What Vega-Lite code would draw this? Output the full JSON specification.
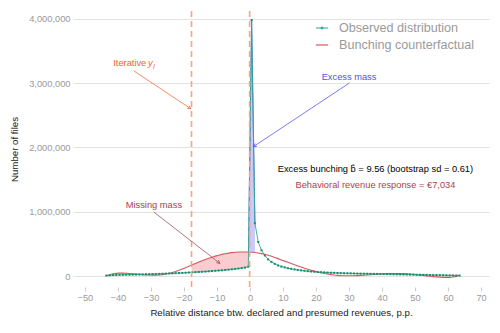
{
  "$schema": "https://vega.github.io/schema/vega-lite/v6.json",
  "width": 416,
  "height": 276,
  "autosize": {"type": "none"},
  "padding": {"left": 73, "top": 11, "right": 11, "bottom": 46},
  "background": "white",
  "config": {
    "font": "Liberation Sans",
    "view": {"stroke": null},
    "axis": {"domain": false, "labelColor": "#9a9a9a", "labelFontSize": 9.3, "titleColor": "#222222", "titleFontSize": 9.7, "titleFontWeight": "normal", "labelOverlap": false},
    "axisX": {"tickCount": 13, "labelOverlap": false}
  },
  "datasets": {
    "obs": [
      {"x": -43.5, "n": 8000}, {"x": -42.5, "n": 12000}, {"x": -41.5, "n": 15000}, {"x": -40.5, "n": 17000},
      {"x": -39.5, "n": 19000}, {"x": -38.5, "n": 20000}, {"x": -37.5, "n": 21000}, {"x": -36.5, "n": 22000},
      {"x": -35.5, "n": 23000}, {"x": -34.5, "n": 24000}, {"x": -33.5, "n": 25000}, {"x": -32.5, "n": 26000},
      {"x": -31.5, "n": 28000}, {"x": -30.5, "n": 29000}, {"x": -29.5, "n": 31000}, {"x": -28.5, "n": 33000},
      {"x": -27.5, "n": 34000}, {"x": -26.5, "n": 36000}, {"x": -25.5, "n": 38000}, {"x": -24.5, "n": 40000},
      {"x": -23.5, "n": 42000}, {"x": -22.5, "n": 44000}, {"x": -21.5, "n": 47000}, {"x": -20.5, "n": 49000},
      {"x": -19.5, "n": 52000}, {"x": -18.5, "n": 55000}, {"x": -17.5, "n": 58000}, {"x": -16.5, "n": 61000},
      {"x": -15.5, "n": 64000}, {"x": -14.5, "n": 67000}, {"x": -13.5, "n": 70000}, {"x": -12.5, "n": 74000},
      {"x": -11.5, "n": 78000}, {"x": -10.5, "n": 82000}, {"x": -9.5, "n": 86000}, {"x": -8.5, "n": 90000},
      {"x": -7.5, "n": 95000}, {"x": -6.5, "n": 100000}, {"x": -5.5, "n": 105000}, {"x": -4.5, "n": 111000},
      {"x": -3.5, "n": 117000}, {"x": -2.5, "n": 124000}, {"x": -1.5, "n": 132000}, {"x": -0.5, "n": 145000},
      {"x": 0.5, "n": 3980000}, {"x": 1.5, "n": 820000}, {"x": 2.5, "n": 530000}, {"x": 3.5, "n": 400000},
      {"x": 4.5, "n": 320000}, {"x": 5.5, "n": 260000}, {"x": 6.5, "n": 220000}, {"x": 7.5, "n": 190000},
      {"x": 8.5, "n": 165000}, {"x": 9.5, "n": 148000}, {"x": 10.5, "n": 135000}, {"x": 11.5, "n": 122000},
      {"x": 12.5, "n": 112000}, {"x": 13.5, "n": 103000}, {"x": 14.5, "n": 95000}, {"x": 15.5, "n": 88000},
      {"x": 16.5, "n": 82000}, {"x": 17.5, "n": 76000}, {"x": 18.5, "n": 71000}, {"x": 19.5, "n": 67000},
      {"x": 20.5, "n": 63000}, {"x": 21.5, "n": 60000}, {"x": 22.5, "n": 57000}, {"x": 23.5, "n": 54000},
      {"x": 24.5, "n": 52000}, {"x": 25.5, "n": 50000}, {"x": 26.5, "n": 48000}, {"x": 27.5, "n": 46000},
      {"x": 28.5, "n": 44000}, {"x": 29.5, "n": 43000}, {"x": 30.5, "n": 42000}, {"x": 31.5, "n": 40000},
      {"x": 32.5, "n": 39000}, {"x": 33.5, "n": 38000}, {"x": 34.5, "n": 37000}, {"x": 35.5, "n": 36000},
      {"x": 36.5, "n": 35000}, {"x": 37.5, "n": 34000}, {"x": 38.5, "n": 33000}, {"x": 39.5, "n": 32000},
      {"x": 40.5, "n": 31000}, {"x": 41.5, "n": 30000}, {"x": 42.5, "n": 29000}, {"x": 43.5, "n": 28000},
      {"x": 44.5, "n": 27000}, {"x": 45.5, "n": 26000}, {"x": 46.5, "n": 25000}, {"x": 47.5, "n": 24000},
      {"x": 48.5, "n": 23000}, {"x": 49.5, "n": 22000}, {"x": 50.5, "n": 21000}, {"x": 51.5, "n": 20000},
      {"x": 52.5, "n": 19000}, {"x": 53.5, "n": 18000}, {"x": 54.5, "n": 17000}, {"x": 55.5, "n": 16000},
      {"x": 56.5, "n": 15000}, {"x": 57.5, "n": 14000}, {"x": 58.5, "n": 13000}, {"x": 59.5, "n": 12000},
      {"x": 60.5, "n": 11000}, {"x": 61.5, "n": 10000}, {"x": 62.5, "n": 9000}, {"x": 63.5, "n": 8000}
    ],
    "cf": [
      {"x": -43.5, "n": 0}, {"x": -42.5, "n": 20000}, {"x": -41.5, "n": 35000}, {"x": -40.5, "n": 42000},
      {"x": -39.5, "n": 45000}, {"x": -38.5, "n": 45000}, {"x": -37.5, "n": 43000}, {"x": -36.5, "n": 40000},
      {"x": -35.5, "n": 36000}, {"x": -34.5, "n": 31000}, {"x": -33.5, "n": 26000}, {"x": -32.5, "n": 22000},
      {"x": -31.5, "n": 18000}, {"x": -30.5, "n": 16000}, {"x": -29.5, "n": 15000}, {"x": -28.5, "n": 15000},
      {"x": -27.5, "n": 18000}, {"x": -26.5, "n": 23000}, {"x": -25.5, "n": 31000}, {"x": -24.5, "n": 42000},
      {"x": -23.5, "n": 56000}, {"x": -22.5, "n": 72000}, {"x": -21.5, "n": 90000}, {"x": -20.5, "n": 110000},
      {"x": -19.5, "n": 131000}, {"x": -18.5, "n": 152000}, {"x": -17.5, "n": 174000}, {"x": -16.5, "n": 196000},
      {"x": -15.5, "n": 217000}, {"x": -14.5, "n": 238000}, {"x": -13.5, "n": 258000}, {"x": -12.5, "n": 277000},
      {"x": -11.5, "n": 294000}, {"x": -10.5, "n": 310000}, {"x": -9.5, "n": 324000}, {"x": -8.5, "n": 337000},
      {"x": -7.5, "n": 348000}, {"x": -6.5, "n": 357000}, {"x": -5.5, "n": 364000}, {"x": -4.5, "n": 369000},
      {"x": -3.5, "n": 373000}, {"x": -2.5, "n": 375000}, {"x": -1.5, "n": 375000}, {"x": -0.5, "n": 374000},
      {"x": 0.5, "n": 371000}, {"x": 1.5, "n": 366000}, {"x": 2.5, "n": 358000}, {"x": 3.5, "n": 349000},
      {"x": 4.5, "n": 338000}, {"x": 5.5, "n": 324000}, {"x": 6.5, "n": 308000}, {"x": 7.5, "n": 290000},
      {"x": 8.5, "n": 271000}, {"x": 9.5, "n": 251000}, {"x": 10.5, "n": 232000}, {"x": 11.5, "n": 213000},
      {"x": 12.5, "n": 194000}, {"x": 13.5, "n": 176000}, {"x": 14.5, "n": 158000}, {"x": 15.5, "n": 140000},
      {"x": 16.5, "n": 123000}, {"x": 17.5, "n": 107000}, {"x": 18.5, "n": 91000}, {"x": 19.5, "n": 77000},
      {"x": 20.5, "n": 63000}, {"x": 21.5, "n": 51000}, {"x": 22.5, "n": 40000}, {"x": 23.5, "n": 31000},
      {"x": 24.5, "n": 23000}, {"x": 25.5, "n": 16000}, {"x": 26.5, "n": 11000}, {"x": 27.5, "n": 7000},
      {"x": 28.5, "n": 5000}, {"x": 29.5, "n": 4000}, {"x": 30.5, "n": 4000}, {"x": 31.5, "n": 5000},
      {"x": 32.5, "n": 7000}, {"x": 33.5, "n": 10000}, {"x": 34.5, "n": 13000}, {"x": 35.5, "n": 17000},
      {"x": 36.5, "n": 21000}, {"x": 37.5, "n": 25000}, {"x": 38.5, "n": 29000}, {"x": 39.5, "n": 33000},
      {"x": 40.5, "n": 36000}, {"x": 41.5, "n": 38000}, {"x": 42.5, "n": 40000}, {"x": 43.5, "n": 41000},
      {"x": 44.5, "n": 41000}, {"x": 45.5, "n": 40000}, {"x": 46.5, "n": 38000}, {"x": 47.5, "n": 35000},
      {"x": 48.5, "n": 31000}, {"x": 49.5, "n": 26000}, {"x": 50.5, "n": 21000}, {"x": 51.5, "n": 15000},
      {"x": 52.5, "n": 9000}, {"x": 53.5, "n": 3000}, {"x": 54.5, "n": -3000}, {"x": 55.5, "n": -8000},
      {"x": 56.5, "n": -13000}, {"x": 57.5, "n": -17000}, {"x": 58.5, "n": -20000}, {"x": 59.5, "n": -21000},
      {"x": 60.5, "n": -20000}, {"x": 61.5, "n": -15000}, {"x": 62.5, "n": -5000}, {"x": 63.5, "n": 12000}
    ],
    "missing": [
      {"x": -17.7, "cf": 170000, "obs": 57000}, {"x": -17.5, "cf": 174000, "obs": 58000},
      {"x": -16.5, "cf": 196000, "obs": 61000}, {"x": -15.5, "cf": 217000, "obs": 64000},
      {"x": -14.5, "cf": 238000, "obs": 67000}, {"x": -13.5, "cf": 258000, "obs": 70000},
      {"x": -12.5, "cf": 277000, "obs": 74000}, {"x": -11.5, "cf": 294000, "obs": 78000},
      {"x": -10.5, "cf": 310000, "obs": 82000}, {"x": -9.5, "cf": 324000, "obs": 86000},
      {"x": -8.5, "cf": 337000, "obs": 90000}, {"x": -7.5, "cf": 348000, "obs": 95000},
      {"x": -6.5, "cf": 357000, "obs": 100000}, {"x": -5.5, "cf": 364000, "obs": 105000},
      {"x": -4.5, "cf": 369000, "obs": 111000}, {"x": -3.5, "cf": 373000, "obs": 117000},
      {"x": -2.5, "cf": 375000, "obs": 124000}, {"x": -1.5, "cf": 375000, "obs": 132000},
      {"x": -0.5, "cf": 374000, "obs": 145000}
    ],
    "excess": [
      {"x": -0.44, "top": 374000, "bottom": 374000},
      {"x": 0.5, "top": 3980000, "bottom": 371000},
      {"x": 1.5, "top": 820000, "bottom": 366000}
    ],
    "vlines": [{"x": -17.7}, {"x": -0.1}]
  },
  "layer": [
    {
      "data": {"name": "missing"},
      "mark": {"type": "area", "color": "#F9CDD0", "opacity": 1},
      "encoding": {
        "x": {"field": "x", "type": "quantitative", "scale": {"domain": [-53.6, 72.4], "nice": false, "zero": false},
          "axis": {"values": [-50, -40, -30, -20, -10, 0, 10, 20, 30, 40, 50, 60, 70], "tickCount": 13, "labelOverlap": false, "grid": false, "ticks": true, "tickColor": "#cccccc", "tickSize": 4, "labelPadding": 2, "title": "Relative distance btw. declared and presumed revenues, p.p.", "titlePadding": 5}},
        "y": {"field": "cf", "type": "quantitative", "scale": {"domain": [-170000, 4120000], "nice": false, "zero": false},
          "axis": {"values": [0, 1000000, 2000000, 3000000, 4000000], "format": ",", "labelExpr": "format(datum.value, ',')", "grid": true, "gridColor": "#e2e2e2", "gridWidth": 1, "ticks": false, "labelPadding": 3, "title": "Number of files", "titlePadding": 9}},
        "y2": {"field": "obs"}
      }
    },
    {
      "data": {"name": "excess"},
      "mark": {"type": "area", "color": "#C3C3FB", "opacity": 0.9, "line": {"color": "#5E73EC", "strokeWidth": 1}},
      "encoding": {
        "x": {"field": "x", "type": "quantitative"},
        "y": {"field": "top", "type": "quantitative"},
        "y2": {"field": "bottom"}
      }
    },
    {
      "data": {"name": "cf"},
      "mark": {"type": "line", "strokeWidth": 1.1},
      "encoding": {
        "x": {"field": "x", "type": "quantitative"},
        "y": {"field": "n", "type": "quantitative"},
        "color": {"datum": "Bunching counterfactual"}
      }
    },
    {
      "data": {"name": "obs"},
      "mark": {"type": "line", "strokeWidth": 0.9},
      "encoding": {
        "x": {"field": "x", "type": "quantitative"},
        "y": {"field": "n", "type": "quantitative"},
        "color": {"datum": "Observed distribution", "type": "nominal",
          "scale": {"domain": ["Observed distribution", "Bunching counterfactual"], "range": ["#2FA88C", "#D9585E"]},
          "legend": {"orient": "none", "legendX": 242, "legendY": 10, "title": null, "labelFontSize": 12.6, "labelColor": "#9a9a9a", "symbolType": "stroke", "symbolSize": 150, "symbolStrokeWidth": 1.2, "rowPadding": 3, "labelOffset": 10, "padding": 0,
            "encode": {"symbols": {"update": {"shape": {"signal": "datum.value === 'Observed distribution' ? 'M-1,0L1,0M-0.1,-0.12L0.1,-0.12L0.1,0.12L-0.1,0.12Z' : 'stroke'"}}}}}}
      }
    },
    {
      "data": {"name": "obs"},
      "mark": {"type": "point", "shape": "square", "filled": true, "size": 4, "color": "#1B8A6E", "opacity": 1},
      "encoding": {
        "x": {"field": "x", "type": "quantitative"},
        "y": {"field": "n", "type": "quantitative"}
      }
    },
    {
      "data": {"name": "vlines"},
      "mark": {"type": "rule", "color": "#FF9F85", "strokeWidth": 1.6, "strokeDash": [6, 4]},
      "encoding": {"x": {"field": "x", "type": "quantitative"}}
    },
    {
      "data": {"values": [{"x": -35.2, "y": 3190000, "x2": -17.9, "y2": 2600000}]},
      "layer": [
        {"mark": {"type": "rule", "color": "#F46D43", "strokeWidth": 0.8},
         "encoding": {"x": {"field": "x", "type": "quantitative"}, "y": {"field": "y", "type": "quantitative"}, "x2": {"field": "x2"}, "y2": {"field": "y2"}}},
        {"mark": {"type": "point", "shape": "M-0.6,1.2L0,0L0.6,1.2", "filled": false, "color": "#F46D43", "strokeWidth": 0.8, "size": 30, "angle": 124, "opacity": 1},
         "encoding": {"x": {"field": "x2", "type": "quantitative"}, "y": {"field": "y2", "type": "quantitative"}}}
      ]
    },
    {
      "data": {"values": [{"x": 30.1, "y": 3000000, "x2": 1.0, "y2": 2010000}]},
      "layer": [
        {"mark": {"type": "rule", "color": "#5B5BF5", "strokeWidth": 0.8},
         "encoding": {"x": {"field": "x", "type": "quantitative"}, "y": {"field": "y", "type": "quantitative"}, "x2": {"field": "x2"}, "y2": {"field": "y2"}}},
        {"mark": {"type": "point", "shape": "M-0.6,1.2L0,0L0.6,1.2", "filled": false, "color": "#5B5BF5", "strokeWidth": 0.8, "size": 30, "angle": 236.6, "opacity": 1},
         "encoding": {"x": {"field": "x2", "type": "quantitative"}, "y": {"field": "y2", "type": "quantitative"}}}
      ]
    },
    {
      "data": {"values": [{"x": -29.1, "y": 995000, "x2": -9.1, "y2": 197000}]},
      "layer": [
        {"mark": {"type": "rule", "color": "#A8505A", "strokeWidth": 0.8},
         "encoding": {"x": {"field": "x", "type": "quantitative"}, "y": {"field": "y", "type": "quantitative"}, "x2": {"field": "x2"}, "y2": {"field": "y2"}}},
        {"mark": {"type": "point", "shape": "M-0.6,1.2L0,0L0.6,1.2", "filled": false, "color": "#A8505A", "strokeWidth": 0.8, "size": 30, "angle": 128, "opacity": 1},
         "encoding": {"x": {"field": "x2", "type": "quantitative"}, "y": {"field": "y2", "type": "quantitative"}}}
      ]
    },
    {
      "data": {"values": [{"x": -31.4, "y": 3310000, "t": "Iterative"}]},
      "mark": {"type": "text", "align": "right", "baseline": "middle", "fontSize": 9.3, "color": "#F4622F"},
      "encoding": {"x": {"field": "x", "type": "quantitative"}, "y": {"field": "y", "type": "quantitative"}, "text": {"field": "t"}}
    },
    {
      "data": {"values": [{"x": -30.9, "y": 3310000, "t": "y"}]},
      "mark": {"type": "text", "align": "left", "baseline": "middle", "fontSize": 9.3, "fontStyle": "italic", "color": "#F4622F"},
      "encoding": {"x": {"field": "x", "type": "quantitative"}, "y": {"field": "y", "type": "quantitative"}, "text": {"field": "t"}}
    },
    {
      "data": {"values": [{"x": -29.4, "y": 3255000, "t": "I"}]},
      "mark": {"type": "text", "align": "left", "baseline": "middle", "fontSize": 6.5, "fontStyle": "italic", "color": "#F4622F"},
      "encoding": {"x": {"field": "x", "type": "quantitative"}, "y": {"field": "y", "type": "quantitative"}, "text": {"field": "t"}}
    },
    {
      "data": {"values": [{"x": 30.0, "y": 3100000, "t": "Excess mass"}]},
      "mark": {"type": "text", "align": "center", "baseline": "middle", "fontSize": 9.3, "color": "#5050F2"},
      "encoding": {"x": {"field": "x", "type": "quantitative"}, "y": {"field": "y", "type": "quantitative"}, "text": {"field": "t"}}
    },
    {
      "data": {"values": [{"x": -29.1, "y": 1104000, "t": "Missing mass"}]},
      "mark": {"type": "text", "align": "center", "baseline": "middle", "fontSize": 9.3, "color": "#A8404E"},
      "encoding": {"x": {"field": "x", "type": "quantitative"}, "y": {"field": "y", "type": "quantitative"}, "text": {"field": "t"}}
    },
    {
      "data": {"values": [{"x": 38.0, "y": 1660000, "t": "Excess bunching b̂ = 9.56 (bootstrap sd = 0.61)"}]},
      "mark": {"type": "text", "align": "center", "baseline": "middle", "fontSize": 9.3, "color": "#000000"},
      "encoding": {"x": {"field": "x", "type": "quantitative"}, "y": {"field": "y", "type": "quantitative"}, "text": {"field": "t"}}
    },
    {
      "data": {"values": [{"x": 38.0, "y": 1415000, "t": "Behavioral revenue response = €7,034"}]},
      "mark": {"type": "text", "align": "center", "baseline": "middle", "fontSize": 9.3, "color": "#B0414A"},
      "encoding": {"x": {"field": "x", "type": "quantitative"}, "y": {"field": "y", "type": "quantitative"}, "text": {"field": "t"}}
    }
  ]
}
